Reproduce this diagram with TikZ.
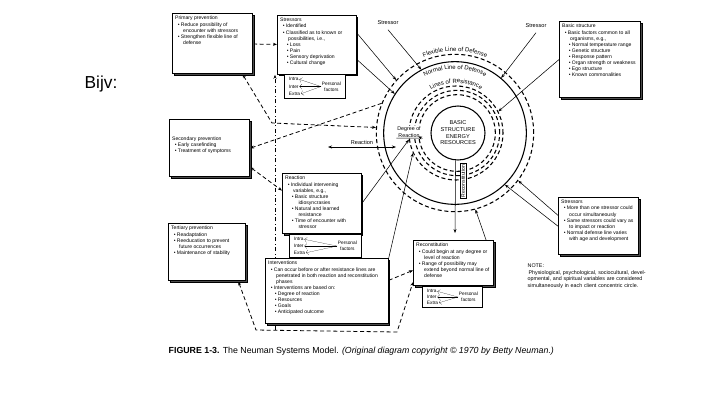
\documentclass[tikz,border=0pt]{standalone}
\usepackage{fontspec}
\setmainfont{Liberation Sans}
\usetikzlibrary{shadows,decorations.text,arrows.meta,backgrounds}
\newcommand\ia[1]{\par\hangindent=6pt\hangafter=1\hspace*{2pt}\textbullet\hspace{1pt}#1}
\newcommand\ib[1]{\par\hangindent=10pt\hangafter=1\hspace*{5pt}\textbullet\hspace{1pt}#1}
\newcommand\bx[6]{\node[box,anchor=north west] (#1) at (#2,-#3) {\parbox[t][#5pt][t]{#4pt}{\raggedright #6}};}
\tikzset{
 box/.style={draw,thick,fill=white,inner sep=2pt,font=\fontsize{3.8}{4.6}\selectfont,
   copy shadow={shadow xshift=1.2pt,shadow yshift=-1.2pt,draw,fill=black!70}},
 pfb/.style={draw,fill=white,thick,anchor=north west},
 sm/.style={font=\fontsize{3.6}{4.2}\selectfont,inner sep=0.5pt},
 dsh/.style={dashed,dash pattern=on 3pt off 2pt,semithick},
 ln/.style={thin,-{Stealth[length=3pt]}},
 rng/.style={circle,draw,inner sep=0pt},
}
\begin{document}
\begin{tikzpicture}[x=0.75pt,y=0.75pt]
\useasboundingbox (0,0) rectangle (720,-405);
\node[font=\fontsize{13}{15}\selectfont] (bijv) at (101,-84) {Bijv:};
% circles
\node[rng,dsh,thick,minimum size=118pt] (outer) at (455,-133) {};
\node[rng,thick,minimum size=107pt] (norm) at (455,-133) {};
\node[rng,dsh,thick,minimum size=70.5pt] (res1) at (456,-133) {};
\node[rng,dsh,thick,minimum size=64pt] (res2) at (457,-133) {};
\node[rng,dsh,thick,minimum size=57.5pt] (res3) at (457,-133) {};
\node[rng,thick,minimum size=40.5pt,align=center,font=\fontsize{4.2}{5}\selectfont] (inner) at (458,-133) {BASIC\\STRUCTURE\\ENERGY\\RESOURCES};
\path[decorate,decoration={text along path,text align=center,text={|\fontsize{4.5}{5}\selectfont|Flexible Line of Defense}}] (455,-133) ++(125:82) arc (125:55:82);
\path[decorate,decoration={text along path,text align=center,text={|\fontsize{4.5}{5}\selectfont|Normal Line of Defense}}] (455,-133) ++(122:64) arc (122:58:64);
\path[decorate,decoration={text along path,text align=center,text={|\fontsize{4.5}{5}\selectfont|Lines of Resistance}}] (456,-133) ++(122:50) arc (122:58:50);
\node[align=center,font=\fontsize{4}{4.8}\selectfont,fill=white,inner sep=0.5pt] (deg) at (409,-132) {Degree of\\Reaction};
\draw[ln] (deg.south west) -- (deg.south east) -- (res3.185);
\node[draw,fill=white,rotate=90,font=\fontsize{3.8}{4.4}\selectfont,inner sep=1pt] (rcv) at (463,-181) {Reconstitution};
\coordinate (rdown) at (455,-233);
\draw[ln] (inner.-95) -- (rdown);
\coordinate (ra) at (328,-147); \coordinate (rb) at (396,-147);
\draw[thin,{Stealth[length=3pt]}-{Stealth[length=3pt]}] (ra) -- (rb);
\node[font=\fontsize{4.2}{5}\selectfont] (rlab) at (362,-142) {Reaction};
% boxes
\bx{prim}{172}{13}{56}{41}{Primary prevention\ia{Reduce possibility of encounter with stressors}\ia{Strengthen flexible line of defense}}
\bx{stress}{277}{15}{55}{40}{Stressors\ia{Identified}\ia{Classified as to known or possibilities, i.e.,}\ib{Loss}\ib{Pain}\ib{Sensory deprivation}\ib{Cultural change}}
\bx{basic}{559}{21}{57}{53}{Basic structure\ia{Basic factors common to all organisms, e.g.,}\ib{Normal temperature range}\ib{Genetic structure}\ib{Response pattern}\ib{Organ strength or weakness}\ib{Ego structure}\ib{Known commonalities}}
\bx{sec}{169}{119}{56}{39}{\vspace*{11pt}Secondary prevention\ia{Early casefinding}\ia{Treatment of symptoms}}
\bx{react}{282}{173}{55}{41}{Reaction\ia{Individual intervening variables, e.g.,}\ib{Basic structure idiosyncrasies}\ib{Natural and learned resistance}\ib{Time of encounter with stressor}}
\bx{tert}{168}{223}{54}{39}{Tertiary prevention\ia{Readaptation}\ia{Reeducation to prevent future occurrences}\ia{Maintenance of stability}}
\bx{interv}{265}{258}{88}{45}{Interventions\ia{Can occur before or after resistance lines are penetrated in both reaction and reconstitution phases}\ia{Interventions are based on:}\ib{Degree of reaction}\ib{Resources}\ib{Goals}\ib{Anticipated outcome}}
\bx{recon}{413}{240}{56}{30}{Reconstitution\ia{Could begin at any degree or level of reaction}\ia{Range of possibility may extend beyond normal line of defense}}
\bx{stress2}{558}{197}{56}{39}{Stressors\ia{More than one stressor could occur simultaneously}\ia{Same stressors could vary as to impact or reaction}\ia{Normal defense line varies with age and development}}
% personal factor boxes
\foreach \n/\x/\y/\w/\h in {pfa/284/74/61/24,pfb/289/234/72/23,pfc/422/286/60/21}{
 \node[pfb,minimum width=\w*0.75pt,minimum height=\h*0.75pt,inner sep=0pt] (\n) at (\x,-\y) {};
 \node[sm,anchor=west] (\n i) at ([xshift=3pt,yshift=-4pt]\n.north west) {Intra};
 \node[sm,anchor=west] (\n n) at ([xshift=3pt]\n.west) {Inter};
 \node[sm,anchor=west] (\n e) at ([xshift=3pt,yshift=4pt]\n.south west) {Extra};
 \node[sm,align=center] (\n p) at ([xshift=-11pt]\n.east) {Personal\\factors};
 \draw[ultra thin,<-] (\n i.east) -- (\n p.west);
 \draw[ultra thin,<-] (\n n.east) -- (\n p.west);
 \draw[ultra thin,<-] (\n e.east) -- (\n p.west);
}
% stressor labels
\node[font=\fontsize{4.2}{5}\selectfont] (sl1) at (388,-23) {Stressor};
\node[font=\fontsize{4.2}{5}\selectfont] (sl2) at (536,-26) {Stressor};
\draw[ln] (sl1.south) -- (norm.118);
\draw[ln] (sl2.south) -- (norm.50);
\begin{pgfonlayer}{background}
\draw[ln] (stress.east) ++(0,12) coordinate (s1) (s1) -- (outer.138);
\draw[ln] (stress.-20) -- (norm.147);
\draw[ln] (basic.west) -- (res1.27);
\draw[ln] (stress2.165) -- (outer.-37);
\draw[ln] (stress2.180) -- (norm.-46);
\draw[ln] (react.east) -- (res1.188);
\draw[ln] (interv.north east) -- (res1.205);
\draw[ln] (recon.north east) ++(-6pt,0) coordinate (r1) (r1) -- (outer.-75);
% dashed connectors
\draw[dsh,-{Stealth[length=3pt]}] (prim) -- (stress);
\coordinate (c1) at (272,-123);
\draw[dsh,{Stealth[length=3pt]}-{Stealth[length=3pt]}] ([xshift=-8pt]prim.south east) -- (c1) -- (outer.176);
\coordinate (v1) at (275,-330);
\draw[dash dot,semithick,-{Stealth[length=3pt]}] (v1) -- (v1 |- stress.south);
\draw[dsh,-{Stealth[length=3pt]}] (outer.158) -- (sec.east);
\draw[dsh,{Stealth[length=3pt]}-{Stealth[length=3pt]}] (sec.-25) -- (react.162);
\coordinate (b1) at (256,-330); \coordinate (b2) at (397,-332);
\draw[dsh,{Stealth[length=3pt]}-{Stealth[length=3pt]}] ([xshift=-6pt]tert.south east) -- (b1) -- (b2) -- (recon.205);
\draw[dsh,-{Stealth[length=3pt]}] (interv.10) -- (recon.190);
\end{pgfonlayer}
% note and caption
\node[anchor=north west,align=left,font=\fontsize{4}{5}\selectfont,text width=92pt] (note) at (523,-259) {NOTE:\\ *\,Physiological, psychological, sociocultural, developmental, and spiritual variables are considered simultaneously in each client concentric circle.};
\node[anchor=west,font=\fontsize{6.6}{8}\selectfont] (cap) at (164,-351) {\textbf{FIGURE 1-3.} The Neuman Systems Model. \textit{(Original diagram copyright \textcopyright\ 1970 by Betty Neuman.)}};
\end{tikzpicture}
\end{document}
